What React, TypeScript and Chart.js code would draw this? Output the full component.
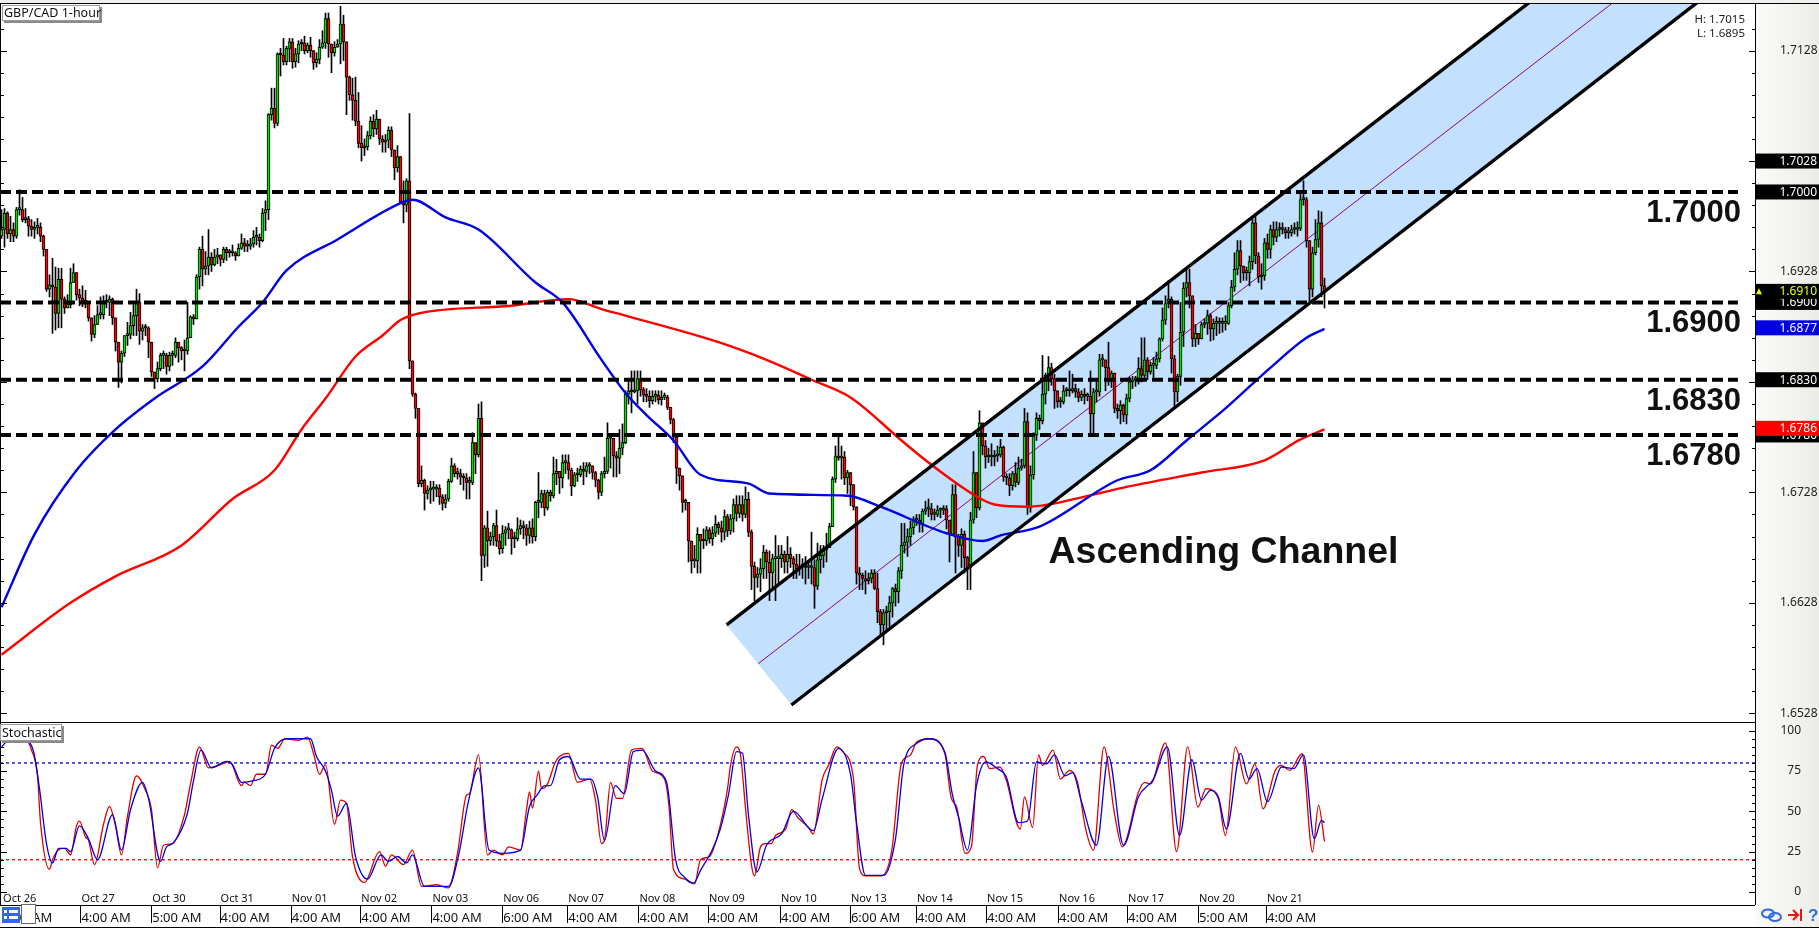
import React, { useEffect, useRef } from "react";
import { Chart, registerables } from "chart.js";

Chart.register(...registerables);

// Prices are written in 1/10000ths (pips); the open of a candle is the previous close.
const firstOpen = 16960;
const closes = [
  16966,16981,16962,16966,16960,16984,16984,16975,16976,16969,
  16966,16968,16968,16960,16948,16912,16916,16914,16890,16921,
  16903,16895,16898,16918,16927,16907,16904,16901,16900,16886,
  16871,16880,16889,16889,16900,16900,16903,16886,16864,16846,
  16854,16870,16871,16879,16888,16900,16874,16877,16877,16864,
  16837,16831,16840,16852,16852,16842,16852,16852,16864,16859,
  16856,16856,16868,16887,16885,16923,16948,16930,16933,16941,
  16934,16941,16943,16939,16948,16945,16945,16945,16942,16949,
  16954,16951,16951,16953,16959,16959,16956,16981,16984,17070,
  17076,17062,17125,17124,17118,17130,17136,17118,17125,17134,
  17135,17128,17133,17128,17117,17120,17131,17135,17157,17134,
  17126,17131,17134,17152,17136,17104,17088,17083,17064,17044,
  17040,17041,17051,17064,17057,17066,17048,17045,17047,17056,
  17038,17022,17032,16991,16988,17010,16847,
  16817,16804,16736,16739,16727,16730,16731,16731,16732,16724,
  16718,16722,16738,16752,16745,16745,16742,16741,16737,16737,
  16773,16762,16795,16671,16696,16684,16688,16698,16684,16677,
  16691,16694,16694,16686,16686,16695,16698,16696,16689,16696,
  16688,16719,16719,16727,16714,16728,16725,16745,16747,16741,
  16755,16755,16748,16734,16744,16744,16749,16747,16752,16752,
  16746,16739,16728,16745,16747,16777,16777,16761,16759,16768,
  16773,16817,16820,16819,16820,16831,16821,16816,16815,16811,
  16815,16816,16812,16814,16814,16805,16794,16778,16750,16743,
  16719,16719,16684,16666,16666,16690,16684,16684,16694,16686,
  16691,16699,16696,16692,16706,16693,16704,16717,16709,16717,
  16708,16722,16692,16661,16651,16654,16659,16674,16665,16655,
  16668,16668,16668,16672,16665,16672,16668,16663,16659,16661,
  16661,16660,16660,16660,16643,
  16667,16671,16676,16678,16697,16740,16761,16759,16760,16741,
  16746,16735,16715,16655,16653,16650,16648,16650,16655,16641,
  16620,16608,16619,16620,16628,16641,16638,16657,16680,16683,
  16688,16696,16703,16703,16700,16711,16713,16713,16708,16708,
  16712,16712,16713,16703,16690,16726,16688,16680,16690,16669,
  16660,16703,16746,16714,16791,16770,16760,16760,16760,16761,
  16762,16769,16742,16741,16734,16745,16737,16750,16752,16792,
  16714,16744,16780,16795,16793,16817,16834,
  16841,16831,16820,16810,16810,16820,16820,16820,16822,16819,
  16814,16817,16815,16815,16799,16819,16819,16848,16848,16841,
  16829,16836,16804,16802,16807,16798,16813,16828,16830,16830,
  16840,16834,16848,16837,16843,16843,16849,16867,16884,16899,
  16903,16849,16819,16833,16873,16913,16918,16906,16867,16872,
  16867,16880,16881,16888,16876,16881,16881,16881,16881,16881,
  16897,16914,16930,16947,16933,16927,16927,16937,16972,16942,
  16923,16924,16954,16948,16966,16959,16966,16966,16966,16963,
  16963,16966,16966,16967,16993,16993,16956,16912,16945,16957,
  16972,16915,16909,
];
const highs = [
  16984,16985,16982,16978,16972,16986,17002,16995,16985,16978,
  16975,16973,16976,16972,16961,16948,16925,16940,16932,16931,
  16931,16905,16907,16931,16935,16927,16912,16915,16911,16900,
  16878,16888,16897,16905,16906,16907,16906,16904,16872,16851,
  16856,16870,16882,16891,16899,16912,16908,16880,16880,16878,
  16840,16835,16846,16854,16856,16854,16855,16856,16868,16862,
  16860,16866,16900,16888,16889,16925,16950,16960,16946,16966,
  16945,16948,16949,16943,16950,16950,16948,16952,16946,16953,
  16962,16958,16956,16958,16965,16968,16962,16985,16992,17071,
  17094,17094,17126,17130,17139,17132,17139,17139,17130,17137,
  17138,17141,17135,17140,17128,17126,17138,17146,17162,17162,
  17134,17136,17138,17168,17160,17136,17105,17103,17104,17090,
  17060,17048,17055,17068,17070,17074,17066,17051,17052,17059,
  17059,17038,17042,17032,17010,17012,17071,
  16847,16818,16804,16752,16740,16734,16738,16738,16735,16735,
  16726,16726,16740,16759,16754,16750,16749,16745,16745,16742,
  16782,16773,16808,16810,16698,16711,16692,16700,16712,16690,
  16698,16697,16700,16695,16692,16705,16703,16702,16699,16702,
  16704,16720,16746,16730,16730,16730,16730,16760,16758,16745,
  16762,16762,16762,16750,16746,16750,16752,16755,16755,16755,
  16752,16747,16740,16747,16760,16791,16780,16777,16765,16785,
  16790,16820,16830,16838,16838,16838,16838,16823,16822,16820,
  16820,16820,16820,16820,16818,16816,16805,16795,16778,16750,
  16743,16722,16719,16684,16680,16696,16690,16695,16697,16696,
  16697,16707,16701,16702,16712,16708,16708,16722,16725,16725,
  16725,16733,16728,16694,16665,16660,16668,16680,16676,16675,
  16672,16689,16680,16680,16675,16688,16678,16670,16672,16672,
  16668,16670,16666,16692,16667,
  16682,16680,16680,16691,16700,16742,16770,16781,16770,16765,
  16748,16746,16735,16715,16660,16655,16657,16655,16658,16658,
  16655,16622,16622,16625,16634,16642,16645,16660,16700,16700,
  16695,16702,16706,16708,16708,16713,16720,16722,16718,16713,
  16716,16714,16716,16716,16703,16735,16735,16690,16695,16693,
  16670,16710,16765,16746,16802,16791,16775,16768,16772,16766,
  16770,16776,16770,16745,16745,16747,16755,16760,16758,16804,
  16800,16752,16782,16800,16798,16852,16836,
  16851,16845,16835,16815,16814,16825,16823,16838,16835,16826,
  16822,16820,16822,16818,16838,16822,16830,16853,16853,16848,
  16864,16838,16836,16808,16811,16808,16817,16832,16833,16833,
  16850,16868,16868,16850,16846,16850,16855,16868,16895,16906,
  16920,16905,16852,16835,16900,16918,16930,16930,16906,16880,
  16872,16882,16885,16893,16890,16885,16887,16886,16886,16888,
  16900,16920,16945,16956,16956,16933,16932,16942,16975,16980,
  16945,16935,16958,16962,16970,16973,16973,16972,16972,16968,
  16968,16970,16972,16973,17000,17010,16995,16956,16950,16975,
  16983,16982,16922,
];
const lows = [
  16958,16950,16958,16955,16955,16958,16979,16973,16972,16960,
  16960,16958,16962,16955,16942,16910,16905,16872,16875,16877,
  16877,16890,16895,16895,16920,16902,16897,16896,16895,16883,
  16865,16868,16880,16885,16885,16895,16888,16880,16856,16823,
  16827,16851,16861,16867,16870,16870,16862,16866,16870,16850,
  16833,16822,16828,16838,16840,16835,16838,16843,16850,16846,
  16848,16838,16853,16870,16880,16885,16912,16915,16925,16925,
  16928,16933,16935,16933,16936,16938,16941,16942,16938,16945,
  16948,16946,16946,16948,16950,16952,16950,16955,16965,16975,
  17065,17058,17060,17105,17115,17115,17118,17112,17113,17117,
  17128,17125,17126,17122,17111,17113,17116,17130,17130,17122,
  17108,17123,17131,17116,17119,17070,17083,17065,17060,17040,
  17028,17033,17038,17048,17050,17052,17043,17036,17036,17040,
  17032,17011,17018,16990,16972,16982,16840,
  16815,16795,16733,16733,16712,16722,16718,16720,16724,16717,
  16712,16714,16720,16737,16742,16740,16735,16730,16722,16722,
  16735,16745,16760,16648,16660,16661,16680,16680,16679,16672,
  16673,16680,16686,16672,16678,16684,16690,16686,16680,16682,
  16682,16684,16705,16714,16707,16712,16720,16723,16735,16727,
  16732,16745,16740,16725,16733,16738,16742,16735,16742,16745,
  16740,16733,16722,16725,16741,16745,16750,16742,16742,16745,
  16762,16772,16808,16800,16818,16808,16815,16810,16810,16805,
  16808,16810,16808,16807,16812,16803,16790,16773,16736,16730,
  16710,16712,16665,16655,16660,16655,16655,16677,16680,16682,
  16680,16688,16690,16683,16685,16688,16690,16692,16702,16705,
  16702,16705,16688,16640,16630,16642,16638,16650,16650,16630,
  16640,16630,16645,16660,16655,16655,16660,16650,16650,16653,
  16650,16645,16650,16645,16623,
  16640,16655,16660,16665,16678,16697,16737,16757,16740,16735,
  16727,16716,16712,16645,16640,16640,16636,16645,16646,16640,
  16610,16599,16590,16603,16606,16615,16625,16628,16650,16673,
  16670,16680,16690,16698,16692,16692,16708,16706,16703,16703,
  16706,16705,16708,16695,16665,16690,16655,16670,16660,16655,
  16640,16640,16700,16705,16712,16762,16750,16755,16752,16752,
  16756,16760,16738,16735,16725,16730,16733,16735,16748,16750,
  16708,16710,16740,16775,16785,16790,16808,
  16820,16825,16804,16805,16805,16808,16815,16815,16818,16814,
  16810,16811,16808,16811,16782,16780,16810,16815,16842,16820,
  16825,16823,16800,16795,16790,16792,16790,16810,16822,16824,
  16826,16828,16832,16830,16835,16830,16840,16846,16865,16880,
  16895,16836,16805,16810,16825,16860,16905,16895,16860,16860,
  16862,16875,16877,16871,16865,16866,16870,16872,16873,16875,
  16880,16895,16910,16925,16918,16920,16920,16915,16930,16935,
  16918,16912,16920,16940,16940,16952,16955,16960,16962,16958,
  16958,16960,16962,16960,16965,16988,16950,16900,16905,16943,
  16950,16905,16895,
];

// Moving averages (bar number, price in pips)
const blueMaBars = [0,11,25,38,51,67,79,87,95,112,134,137,148,159,178,187,200,208,215,224,233,249,256,282,293,315,327,333,346,372,383,395,408,423,435,441];
const blueMaValues = [16624,16690,16748,16785,16813,16842,16878,16900,16929,16957,16991,16993,16977,16966,16918,16900,16848,16818,16798,16775,16744,16736,16727,16725,16715,16691,16684,16689,16697,16739,16748,16775,16804,16841,16868,16876];
const redMaBars = [0,23,38,60,77,91,100,108,118,127,133,139,170,189,200,208,239,255,270,283,300,309,324,331,342,364,375,400,421,433,441];
const redMaValues = [16581,16628,16652,16680,16722,16748,16785,16813,16851,16870,16884,16890,16897,16903,16894,16888,16864,16848,16830,16814,16775,16755,16726,16717,16715,16726,16733,16746,16757,16776,16785];

// Stochastic %K (red) and %D (blue)
const stochKBars = [0,3,5,8,10,12,13,16,17,19,21,23,25,26,28,29,31,34,36,38,40,42,45,48,50,52,54,57,61,63,66,69,73,76,80,81,83,85,88,90,92,94.5,99,102,104,106,108,111,113,115,117,121,126,128,130,134,137,140,145,149,152,155,156,159,162,164,167,169,173,175,176,177,179,180,182,184.5,186,189,192,196,198,200,201,203,205,207,210,213.5,217,221,222.5,224,228,231,233,236,239,242,243,245,246.4,248,250,251,253,254.6,256.6,258,261.4,263.4,265.5,269,270.6,273.6,275.7,278.4,280.4,284,286,288,293.3,296.7,300,303,305,309.7,314.4,316.5,318.5,321.2,323.3,325.3,327.4,329.4,332.8,334.8,339.6,341,343.7,345.7,347,350.5,353,356,358.7,361.4,364,367.5,371,373.6,379,381,383,388,391.7,395.4,398.8,401.5,405.6,408,411.3,415,417.8,420.5,424.6,426.7,429.4,433.5,437,439,441];
const stochKValues = [94,95,93,95,88,72,43,14,20,26,27,23,41,44,34,32,17,42,53,41,23,47,72,63,51,15,29,30,48,67,90,77,79,81,66,68,66,73,73,91,89,95,94,96,86,73,79,42,57,55,22,6,25,16,23,17,26,3.5,4.5,2.5,24,60,61,85,23,26,23,28,26,51,62,52,75,64,67,80,84,86,68,70,57,30,32,68,58,58,88,89,75,70,53,14,8,5,20,22,37,64,78.5,90,84,52,16.5,10,28,30,30,35,39,51,46,40,36,70,78.5,90,87,70,14.5,10,10,25,80,85,93,95,86,59,52,24,28,78.5,84,76.5,77.5,70,39,59,40,85,78.5,88,70,75.4,68,39,26,90,48.5,28,62,68,67,92.5,25,90,52.7,64,58,35,90,67,79.5,51.6,75.4,78.5,75.4,85.7,24.8,53.7,31.4];
const stochDBars = [0,3,8,10.7,12.6,15,17,19,21.6,23,26,29,32,37,40,43,47,49,53,55,57,62,64,66.5,70,75,77,80,84,88,91,95,99,103,105,108,110,112,115,118,122,126.5,129,132,135,137,141,149,152.5,155.5,159,162.5,167,173,176,178.5,181,183,186,189,193,196.5,198.7,201,204.6,207.6,210.6,213.6,218,221.7,224.7,227.7,230.7,233,236.9,239.6,242.3,245,247,249,251.8,255,260,264,270.6,273.6,279,283,285,288,294,298,300.8,305,309,314.4,317,319,322,325,328,332,335,339,342,345,348.4,351,354.5,357,360,365,369,374,379,384,388.6,392.7,396.8,400,403,405.6,408.3,413,415.8,418.5,422,426.7,430.8,434,437.6,440,441];
const stochDValues = [90,95,94,87,65,30,18,27,27,25,41,33,20,48,26,51,68,58,19,28,30,49,69,88,77,81,79,68,69,73,89,95,95,95,84,75,63,47,55,22,8,23,19,22,18,23,3.5,3.5,24,55,77,26,24,26,53,60,66,66,82,84,70,70,59,32,66,61,87,88,75,68,20,9,5.5,13.4,26,39,60,87,86,47.5,12.4,29,36,50,38,58,89,73,43,10.3,10.3,33,79.5,92,95,87,60,46.5,26,66,80.6,76.5,71,43,44,80.6,79.5,85,72,74,56,29,84,29,59,70,90,35,82,57,63,59,39,86,70,76.5,56,77.5,76.5,85,33,44.4,43];
const stochLevels = [80, 20];

// Ascending channel anchors (bar number, price in pips)
const channelUpper = [[242.2, 16608], [584, 17328]];
const channelLower = [[263.8, 16535.5], [584, 17210]];
const channelMiddle = [[252.8, 16573], [556, 17210]];

// Horizontal levels
const levels = [1.7, 1.69, 1.683, 1.678];
const levelLabels = ["1.7000", "1.6900", "1.6830", "1.6780"];
const levelEndBar = 579.3;

// Axes
const priceAxisLabelled = ["1.7128", "1.7028", "1.6928", "1.6828", "1.6728", "1.6628", "1.6528"];
const stochAxisLabelled = [100, 75, 50, 25, 0];
const tickBars = [0.7,26.8,50.4,73.2,96.9,120.1,143.8,167.4,189.1,212.8,236,260,283.3,305.3,328.7,352.7,375.7,399.3,422];
const dateLabels = ["Oct 26","Oct 27","Oct 30","Oct 31","Nov 01","Nov 02","Nov 03","Nov 06","Nov 07","Nov 08","Nov 09","Nov 10","Nov 13","Nov 14","Nov 15","Nov 16","Nov 17","Nov 20","Nov 21"];
const timeLabels = ["4:00 AM","4:00 AM","5:00 AM","4:00 AM","4:00 AM","4:00 AM","4:00 AM","6:00 AM","4:00 AM","4:00 AM","4:00 AM","4:00 AM","6:00 AM","4:00 AM","4:00 AM","4:00 AM","4:00 AM","5:00 AM","4:00 AM"];

// Price tags on the right-hand axis, in drawing order
const tagValues = [1.7028, 1.7, 1.69, 1.691, 1.6877, 1.683, 1.678, 1.6786];
const tagLabels = ["1.7028", "1.7000", "1.6900", "1.6910", "1.6877", "1.6830", "1.6780", "1.6786"];
const tagFills = ["#000", "#000", "#000", "#000", "#0000e0", "#000", "#000", "#ff0000"];
const tagInks = ["#fff", "#fff", "#fff", "#e8ff20", "#fff", "#fff", "#fff", "#fff"];

const title = "GBP/CAD 1-hour";
const indicatorTitle = "Stochastic";
const rangeLabels = ["H: 1.7015", "L: 1.6895"];
const channelLabel = "Ascending Channel";

const UI = '"Noto Sans", sans-serif';
const HEAVY = '"Liberation Sans", Arial, sans-serif';
const P = (v: number) => v / 10000;
const RIGHT = 1755;

function labelBox(ctx: any, text: string, x: number, y: number, w: number, h: number) {
  ctx.fillStyle = "#8a8a8a";
  ctx.fillRect(x + 2, y + 2, w, h);
  ctx.fillStyle = "#fff";
  ctx.fillRect(x, y, w, h);
  ctx.strokeStyle = "#9a9a9a";
  ctx.lineWidth = 1;
  ctx.strokeRect(x + 0.5, y + 0.5, w - 1, h - 1);
  ctx.fillStyle = "#111";
  ctx.font = `12.5px ${UI}`;
  ctx.textAlign = "left";
  ctx.textBaseline = "middle";
  ctx.fillText(text, x + 2, y + h / 2 + 0.5);
}

const backdrop = {
  id: "backdrop",
  afterLayout(chart: any) {
    // price labels may use the full strip; stochastic labels end at the box edge
    chart.scales.y.right = 1819;
  },
  beforeDraw(chart: any) {
    const ctx = chart.ctx;
    ctx.save();
    ctx.fillStyle = "#fff";
    ctx.fillRect(0, 0, 1819, 928);
    const g = ctx.createLinearGradient(RIGHT, 0, 1819, 0);
    g.addColorStop(0, "#fbfbfa");
    g.addColorStop(1, "#ecece7");
    ctx.fillStyle = g;
    ctx.fillRect(RIGHT, 3, 64, 925);
    ctx.fillStyle = "#efefef";
    ctx.fillRect(0, 0, 1819, 3);
    ctx.restore();
  },
};

const overlay = {
  id: "overlay",
  afterDatasetsDraw(chart: any) {
    const ctx = chart.ctx;
    const y = chart.scales.y;
    const x = chart.scales.x;
    ctx.save();
    ctx.fillStyle = "#111";
    ctx.font = `bold 31px ${HEAVY}`;
    ctx.textAlign = "right";
    ctx.textBaseline = "alphabetic";
    levels.forEach((lv, i) => ctx.fillText(levelLabels[i], 1741, y.getPixelForValue(lv) + 30));
    ctx.textAlign = "left";
    ctx.font = `bold 37.5px ${HEAVY}`;
    ctx.fillText(channelLabel, x.getPixelForValue(349.5), y.getPixelForValue(1.6660) - 4);
    ctx.fillStyle = "#222";
    ctx.font = `11.5px ${UI}`;
    ctx.textAlign = "right";
    ctx.fillText(rangeLabels[0], 1745, 23);
    ctx.fillText(rangeLabels[1], 1745, 37);
    ctx.restore();
  },
  afterDraw(chart: any) {
    const ctx = chart.ctx;
    const { y, yStoch, x } = chart.scales;
    ctx.save();
    ctx.fillStyle = "#000";
    // panel frame
    ctx.fillRect(0, 3, 1819, 1);
    ctx.fillRect(0, 722, RIGHT, 1);
    ctx.fillRect(0, 905, RIGHT, 1);
    ctx.fillRect(0, 927, 1819, 1);
    ctx.fillRect(RIGHT, 3, 1, 902);
    ctx.fillRect(0, 3, 1, 902);
    // tick marks, mirrored on both edges of the plot
    y.ticks.forEach((t: any) => {
      const py = Math.round(y.getPixelForValue(t.value));
      const len = t.label ? 6 : 3;
      ctx.fillRect(RIGHT - len, py, len, 1);
      ctx.fillRect(0, py, len + 1, 1);
    });
    yStoch.ticks.forEach((t: any) => {
      const py = Math.round(yStoch.getPixelForValue(t.value));
      const len = t.label ? 6 : 3;
      ctx.fillRect(RIGHT - len, py, len, 1);
      ctx.fillRect(0, py, len + 1, 1);
    });
    // time axis separators
    tickBars.forEach((b, i) => {
      if (i === 0) return;
      ctx.fillRect(Math.round(x.getPixelForValue(b)), 905, 1, 18);
    });
    // price tags
    ctx.font = `12px ${UI}`;
    ctx.textAlign = "right";
    ctx.textBaseline = "middle";
    tagValues.forEach((v, i) => {
      const py = y.getPixelForValue(v);
      ctx.fillStyle = tagFills[i];
      ctx.fillRect(RIGHT + 1, py - 7.5, 63, 15);
      ctx.fillStyle = tagInks[i];
      ctx.fillText(tagLabels[i], 1817, py + 0.5);
    });
    // marker for the current price
    const markY = y.getPixelForValue(1.691);
    ctx.fillStyle = "#f6f600";
    ctx.beginPath();
    ctx.moveTo(1759, markY - 3);
    ctx.lineTo(1762, markY + 3);
    ctx.lineTo(1756, markY + 3);
    ctx.closePath();
    ctx.fill();
    // caption boxes
    labelBox(ctx, title, 2, 5, 98, 16);
    labelBox(ctx, indicatorTitle, 0, 724, 62, 17);
    // bottom-left buttons
    ctx.fillStyle = "#3366ee";
    ctx.fillRect(2, 907, 18, 16);
    ctx.fillStyle = "#fff";
    ctx.fillRect(4, 910, 3, 3);
    ctx.fillRect(4, 916, 3, 3);
    ctx.fillRect(9, 910, 9, 3);
    ctx.fillRect(9, 916, 9, 3);
    ctx.fillStyle = "#fff";
    ctx.fillRect(21, 905, 15, 19);
    ctx.strokeStyle = "#666";
    ctx.lineWidth = 1;
    ctx.strokeRect(21.5, 904.5, 14, 19);
    // bottom-right buttons
    ctx.strokeStyle = "#2a6ce0";
    ctx.lineWidth = 2;
    ctx.beginPath();
    ctx.ellipse(1768, 913.5, 6, 4, 0, 0, Math.PI * 2);
    ctx.stroke();
    ctx.beginPath();
    ctx.ellipse(1775, 917, 6, 4, 0, 0, Math.PI * 2);
    ctx.stroke();
    ctx.strokeStyle = "#ee1111";
    ctx.beginPath();
    ctx.moveTo(1788, 915);
    ctx.lineTo(1798, 915);
    ctx.moveTo(1793, 910);
    ctx.lineTo(1798, 915);
    ctx.lineTo(1793, 920);
    ctx.moveTo(1801, 909);
    ctx.lineTo(1801, 921);
    ctx.stroke();
    ctx.fillStyle = "#2a6ce0";
    ctx.font = `bold 17px ${HEAVY}`;
    ctx.textAlign = "left";
    ctx.textBaseline = "alphabetic";
    ctx.fillText("?", 1808, 921);
    ctx.restore();
  },
};

const flatten = (s: any) => {
  s.paddingLeft = 0;
  s.paddingRight = 0;
  s.paddingTop = 0;
  s.paddingBottom = 0;
};

function line(id: string, pts: any[], yAxisID: string, color: string, width: number, order: number, extra: any = {}) {
  return {
    type: "line",
    label: id,
    data: pts,
    yAxisID,
    xAxisID: "x",
    borderColor: color,
    borderWidth: width,
    pointRadius: 0,
    tension: 0,
    fill: false,
    order,
    ...extra,
  };
}

export default function App() {
  const ref = useRef<HTMLCanvasElement | null>(null);

  useEffect(() => {
    document.body.style.margin = "0";
    document.body.style.overflow = "hidden";
    const opens = closes.map((_, i) => (i === 0 ? firstOpen : closes[i - 1]));
    const bodies = closes.map((c, i) => ({ x: i + 0.5, y: [P(opens[i]), P(c)] }));
    const wicks = closes.map((c, i) => ({
      x: i + 0.5,
      y: [P(Math.min(lows[i], opens[i], c)), P(Math.max(highs[i], opens[i], c))],
    }));
    const fills = closes.map((c, i) => (c >= opens[i] ? "#00e400" : "#ff0000"));

    const pair = (pts: number[][]) => pts.map(([b, v]) => ({ x: b, y: P(v) }));
    const series = (bars: number[], vals: number[]) => bars.map((b, i) => ({ x: b + 0.5, y: P(vals[i]) }));
    const stoch = (bars: number[], vals: number[]) => bars.map((b, i) => ({ x: b + 0.5, y: vals[i] }));

    const mainTicks: number[] = [];
    for (let k = 0; k <= 31; k++) mainTicks.push(Number((1.6528 + k * 0.002).toFixed(4)));
    const stochTicks: number[] = [];
    for (let k = 0; k <= 20; k++) stochTicks.push(k * 5);

    const smooth = { cubicInterpolationMode: "monotone" };

    const chart = new Chart(ref.current as HTMLCanvasElement, {
      type: "bar",
      data: {
        datasets: [
          line("channel fill a", [pair(channelUpper)[0], pair(channelUpper)[1]], "y", "rgba(0,0,0,0)", 0, 20, {
            fill: "+1",
            backgroundColor: "#c3e0fe",
          }),
          line("channel fill b", [pair(channelUpper)[0], pair(channelLower)[0], pair(channelLower)[1]], "y", "rgba(0,0,0,0)", 0, 19),
          line("channel middle", pair(channelMiddle), "y", "#8b008b", 1, 18),
          {
            type: "bar",
            label: "wicks",
            data: wicks,
            yAxisID: "y",
            xAxisID: "x",
            barThickness: 1,
            grouped: false,
            backgroundColor: "#000",
            borderWidth: 0,
            order: 12,
          },
          {
            type: "bar",
            label: "bodies",
            data: bodies,
            yAxisID: "y",
            xAxisID: "x",
            barThickness: 3,
            grouped: false,
            minBarLength: 2,
            backgroundColor: fills,
            borderColor: "#000",
            borderWidth: 1,
            borderSkipped: false,
            order: 11,
          },
          line("slow average", series(redMaBars, redMaValues), "y", "#ff0000", 2.4, 8, smooth),
          line("fast average", series(blueMaBars, blueMaValues), "y", "#0000e0", 2.4, 7, smooth),
          line("channel upper", pair(channelUpper), "y", "#000", 3.4, 6),
          line("channel lower", pair(channelLower), "y", "#000", 3.4, 5),
          ...levels.map((lv, i) =>
            line(levelLabels[i], [{ x: 0, y: lv }, { x: levelEndBar, y: lv }], "y", "#000", 4, 4, { borderDash: [11, 5] })
          ),
          line("level 80", [{ x: 0, y: stochLevels[0] }, { x: 585, y: stochLevels[0] }], "yStoch", "#0000e0", 1.3, 3, { borderDash: [3, 3] }),
          line("level 20", [{ x: 0, y: stochLevels[1] }, { x: 585, y: stochLevels[1] }], "yStoch", "#ee0000", 1.3, 3, { borderDash: [3, 3] }),
          line("%K", stoch(stochKBars, stochKValues), "yStoch", "#e00000", 1.3, 2, smooth),
          line("%D", stoch(stochDBars, stochDValues), "yStoch", "#0000e0", 1.3, 1, smooth),
        ] as any,
      },
      plugins: [backdrop, overlay] as any,
      options: {
        responsive: false,
        animation: false,
        devicePixelRatio: 1,
        events: [],
        layout: { autoPadding: false, padding: { top: 3, left: 0, right: 18, bottom: 1 } },
        plugins: { legend: { display: false }, tooltip: { enabled: false } },
        scales: {
          x: {
            type: "linear",
            position: "bottom",
            weight: 2,
            min: 0,
            max: 585,
            offset: false,
            grid: { display: false, offset: false, drawTicks: false },
            border: { display: false },
            afterBuildTicks: (s: any) => {
              s.ticks = tickBars.map((value) => ({ value }));
            },
            afterFit: (s: any) => {
              s.height = 22;
              flatten(s);
            },
            ticks: {
              autoSkip: false,
              maxRotation: 0,
              minRotation: 0,
              align: "start",
              labelOffset: 1,
              padding: 5,
              color: "#111",
              font: { family: "Noto Sans", size: 13 },
              callback: (v: any) => timeLabels[tickBars.indexOf(v)] ?? "",
            },
          },
          xDate: {
            type: "linear",
            position: "bottom",
            weight: 1,
            min: 0,
            max: 585,
            offset: false,
            grid: { display: false, offset: false, drawTicks: false },
            border: { display: false },
            afterBuildTicks: (s: any) => {
              s.ticks = tickBars.map((value) => ({ value }));
            },
            afterFit: (s: any) => {
              s.height = 13;
              flatten(s);
            },
            ticks: {
              autoSkip: false,
              maxRotation: 0,
              minRotation: 0,
              align: "start",
              labelOffset: 1,
              padding: 0,
              color: "#111",
              font: { family: "Noto Sans", size: 11 },
              callback: (v: any) => dateLabels[tickBars.indexOf(v)] ?? "",
            },
          },
          y: {
            type: "linear",
            position: "right",
            stack: "panes",
            stackWeight: 719,
            weight: 1,
            min: 1.65201,
            max: 1.71711,
            beginAtZero: false,
            grid: { display: false, drawTicks: false },
            border: { display: false },
            afterBuildTicks: (s: any) => {
              s.ticks = mainTicks.map((value) => ({ value }));
            },
            afterFit: (s: any) => {
              s.width = 46;
              flatten(s);
            },
            ticks: {
              autoSkip: false,
              padding: 25,
              color: "#222",
              font: { family: "Noto Sans", size: 12 },
              callback: (v: any) => (priceAxisLabelled.includes(Number(v).toFixed(4)) ? Number(v).toFixed(4) : ""),
            },
          },
          yStoch: {
            type: "linear",
            position: "right",
            stack: "panes",
            stackWeight: 170,
            weight: 2,
            min: 0,
            max: 105.4,
            beginAtZero: true,
            grid: { display: false, drawTicks: false },
            border: { display: false },
            afterBuildTicks: (s: any) => {
              s.ticks = stochTicks.map((value) => ({ value }));
            },
            afterFit: (s: any) => {
              s.width = 46;
              flatten(s);
            },
            ticks: {
              autoSkip: false,
              padding: 6,
              crossAlign: "far",
              color: "#222",
              font: { family: "Noto Sans", size: 12 },
              callback: (v: any) => (stochAxisLabelled.includes(Number(v)) ? String(v) : ""),
            },
          },
        },
      } as any,
    });
    return () => chart.destroy();
  }, []);

  return (
    <canvas
      ref={ref}
      width={1819}
      height={928}
      style={{ position: "fixed", left: 0, top: 0, width: 1819, height: 928, display: "block" }}
    />
  );
}
